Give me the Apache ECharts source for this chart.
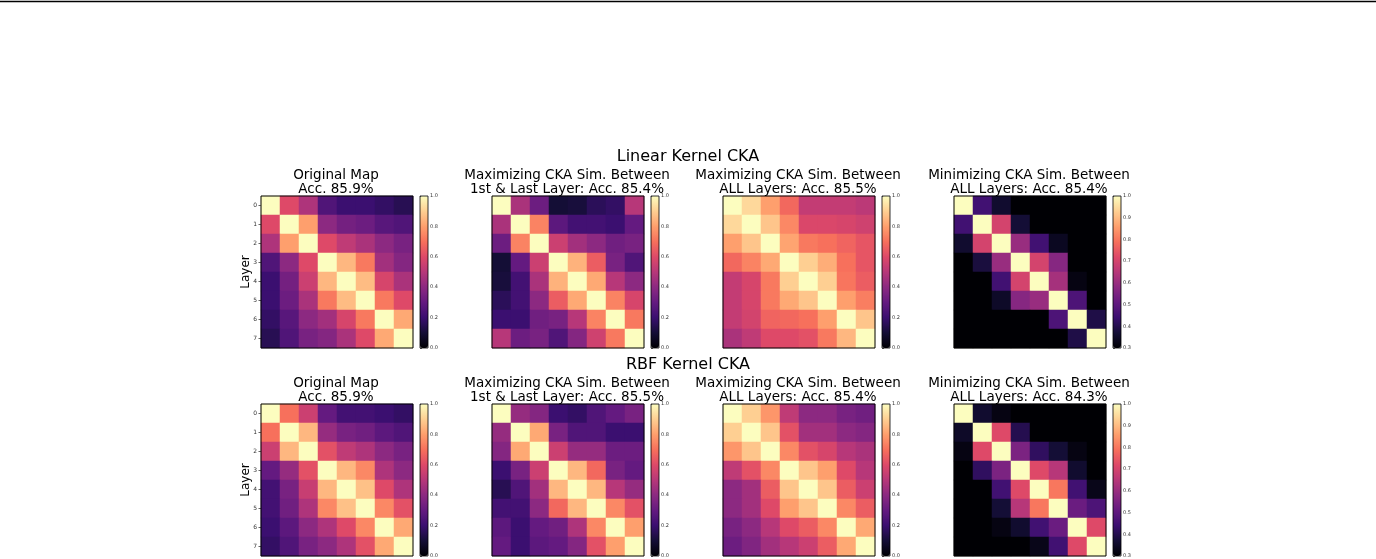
<!DOCTYPE html>
<html>
<head>
<meta charset="utf-8">
<title>CKA heatmaps</title>
<script src="https://cdn.jsdelivr.net/npm/echarts@6/dist/echarts.min.js"></script>
<style>
  html, body { margin: 0; padding: 0; background: #fff; }
  #chart { width: 1376px; height: 559px; }
</style>
</head>
<body>
<div id="chart"></div>
<script>
// layer indices
const layers = ['0', '1', '2', '3', '4', '5', '6', '7']

// linear kernel CKA matrices (row = layer, col = layer)
const linearOriginal = [
  [1.00, 0.60, 0.48, 0.25, 0.20, 0.20, 0.18, 0.15],
  [0.60, 1.00, 0.80, 0.40, 0.34, 0.32, 0.27, 0.25],
  [0.48, 0.80, 1.00, 0.60, 0.52, 0.47, 0.40, 0.35],
  [0.25, 0.40, 0.60, 1.00, 0.85, 0.72, 0.45, 0.38],
  [0.20, 0.34, 0.55, 0.85, 1.00, 0.86, 0.58, 0.47],
  [0.20, 0.32, 0.47, 0.72, 0.86, 1.00, 0.72, 0.60],
  [0.18, 0.27, 0.40, 0.45, 0.58, 0.72, 1.00, 0.82],
  [0.15, 0.25, 0.35, 0.38, 0.47, 0.60, 0.82, 1.00]
]
const linearMaxFirstLast = [
  [1.00, 0.47, 0.32, 0.10, 0.11, 0.16, 0.18, 0.50],
  [0.47, 1.00, 0.74, 0.28, 0.22, 0.22, 0.20, 0.30],
  [0.32, 0.74, 1.00, 0.55, 0.45, 0.40, 0.33, 0.35],
  [0.10, 0.30, 0.55, 1.00, 0.84, 0.65, 0.35, 0.25],
  [0.11, 0.22, 0.47, 0.84, 1.00, 0.82, 0.50, 0.40],
  [0.16, 0.22, 0.40, 0.65, 0.82, 1.00, 0.74, 0.58],
  [0.20, 0.20, 0.33, 0.35, 0.50, 0.74, 1.00, 0.72],
  [0.50, 0.32, 0.35, 0.25, 0.38, 0.56, 0.72, 1.00]
]
const linearMaxAll = [
  [1.00, 0.92, 0.80, 0.68, 0.53, 0.53, 0.53, 0.51],
  [0.92, 1.00, 0.88, 0.75, 0.59, 0.59, 0.58, 0.56],
  [0.80, 0.88, 1.00, 0.81, 0.72, 0.70, 0.67, 0.63],
  [0.68, 0.74, 0.82, 1.00, 0.90, 0.83, 0.70, 0.63],
  [0.53, 0.58, 0.72, 0.90, 1.00, 0.90, 0.71, 0.65],
  [0.53, 0.58, 0.72, 0.82, 0.88, 1.00, 0.80, 0.73],
  [0.53, 0.57, 0.67, 0.68, 0.70, 0.80, 1.00, 0.88],
  [0.47, 0.52, 0.60, 0.60, 0.62, 0.72, 0.85, 1.00]
]
const linearMinAll = [
  [1.00, 0.45, 0.36, 0.25, 0.25, 0.25, 0.25, 0.25],
  [0.45, 1.00, 0.70, 0.37, 0.25, 0.25, 0.25, 0.25],
  [0.36, 0.70, 1.00, 0.60, 0.45, 0.34, 0.28, 0.27],
  [0.25, 0.38, 0.60, 1.00, 0.70, 0.57, 0.28, 0.25],
  [0.25, 0.26, 0.45, 0.70, 1.00, 0.62, 0.32, 0.25],
  [0.25, 0.25, 0.35, 0.57, 0.60, 1.00, 0.47, 0.28],
  [0.25, 0.25, 0.26, 0.28, 0.29, 0.47, 1.00, 0.39],
  [0.25, 0.25, 0.25, 0.25, 0.25, 0.28, 0.39, 1.00]
]

// RBF kernel CKA matrices
const rbfOriginal = [
  [1.00, 0.70, 0.55, 0.30, 0.22, 0.22, 0.20, 0.18],
  [0.70, 1.00, 0.85, 0.42, 0.35, 0.33, 0.28, 0.25],
  [0.55, 0.85, 1.00, 0.62, 0.52, 0.48, 0.40, 0.35],
  [0.30, 0.42, 0.62, 1.00, 0.85, 0.75, 0.48, 0.40],
  [0.22, 0.35, 0.54, 0.85, 1.00, 0.87, 0.60, 0.48],
  [0.22, 0.33, 0.48, 0.75, 0.87, 1.00, 0.75, 0.62],
  [0.20, 0.28, 0.40, 0.48, 0.60, 0.75, 1.00, 0.82],
  [0.18, 0.25, 0.35, 0.40, 0.48, 0.62, 0.82, 1.00]
]
const rbfMaxFirstLast = [
  [1.00, 0.42, 0.38, 0.20, 0.18, 0.25, 0.30, 0.35],
  [0.42, 1.00, 0.82, 0.35, 0.25, 0.25, 0.20, 0.20],
  [0.38, 0.82, 1.00, 0.55, 0.42, 0.42, 0.32, 0.32],
  [0.20, 0.35, 0.55, 1.00, 0.85, 0.68, 0.35, 0.30],
  [0.15, 0.25, 0.45, 0.85, 1.00, 0.85, 0.50, 0.42],
  [0.22, 0.22, 0.40, 0.68, 0.85, 1.00, 0.75, 0.62],
  [0.28, 0.20, 0.30, 0.33, 0.48, 0.75, 1.00, 0.80],
  [0.30, 0.20, 0.28, 0.30, 0.38, 0.62, 0.80, 1.00]
]
const rbfMaxAll = [
  [1.00, 0.90, 0.78, 0.52, 0.40, 0.40, 0.35, 0.33],
  [0.90, 1.00, 0.88, 0.62, 0.45, 0.45, 0.40, 0.38],
  [0.78, 0.88, 1.00, 0.75, 0.62, 0.58, 0.50, 0.47],
  [0.52, 0.62, 0.75, 1.00, 0.88, 0.80, 0.60, 0.50],
  [0.40, 0.45, 0.65, 0.88, 1.00, 0.88, 0.65, 0.55],
  [0.40, 0.45, 0.60, 0.80, 0.88, 1.00, 0.75, 0.65],
  [0.35, 0.40, 0.50, 0.60, 0.65, 0.75, 1.00, 0.82],
  [0.32, 0.37, 0.45, 0.50, 0.55, 0.65, 0.82, 1.00]
]
const rbfMinAll = [
  [1.00, 0.36, 0.32, 0.25, 0.25, 0.25, 0.25, 0.25],
  [0.35, 1.00, 0.72, 0.40, 0.25, 0.25, 0.25, 0.25],
  [0.32, 0.72, 1.00, 0.55, 0.42, 0.37, 0.32, 0.27],
  [0.25, 0.42, 0.55, 1.00, 0.72, 0.65, 0.36, 0.26],
  [0.25, 0.25, 0.45, 0.72, 1.00, 0.80, 0.45, 0.33],
  [0.25, 0.25, 0.37, 0.65, 0.80, 1.00, 0.52, 0.47],
  [0.25, 0.25, 0.32, 0.36, 0.45, 0.52, 1.00, 0.72],
  [0.25, 0.25, 0.25, 0.25, 0.33, 0.45, 0.72, 1.00]
]

const rowTitles = ['Linear Kernel CKA', 'RBF Kernel CKA']
const panelTitles = [
  'Original Map\nAcc. 85.9%',
  'Maximizing CKA Sim. Between\n1st & Last Layer: Acc. 85.4%',
  'Maximizing CKA Sim. Between\nALL Layers: Acc. 85.5%',
  'Minimizing CKA Sim. Between\nALL Layers: Acc. 85.4%',
  'Original Map\nAcc. 85.9%',
  'Maximizing CKA Sim. Between\n1st & Last Layer: Acc. 85.5%',
  'Maximizing CKA Sim. Between\nALL Layers: Acc. 85.4%',
  'Minimizing CKA Sim. Between\nALL Layers: Acc. 84.3%'
]
const matrices = [
  linearOriginal, linearMaxFirstLast, linearMaxAll, linearMinAll,
  rbfOriginal, rbfMaxFirstLast, rbfMaxAll, rbfMinAll
]
// colour limits of each colorbar
const colorMin = [0, 0, 0, 0.3, 0, 0, 0, 0.3]
const colorMax = [1, 1, 1, 1, 1, 1, 1, 1]
const colorStep = [0.2, 0.2, 0.2, 0.1, 0.2, 0.2, 0.2, 0.1]

// magma colormap
const magma = ['#000004', '#140e36', '#3b0f70', '#641a80', '#8c2981', '#b73779',
  '#de4968', '#f7705c', '#fe9f6d', '#fecf92', '#fcfdbf']

// layout (px) - 19px cells so the heatmap has no seams
const mapLeft0 = 261
const colStep = 231
const rowTop = [196, 404]
const mapSize = 152
const cbOffset = 159
const cbWidth = 8
const font = 'DejaVu Sans'

let grids = []
let xAxes = []
let yAxes = []
let series = []
let visualMaps = []
let titles = []

rowTitles.forEach((t, r) => {
  titles.push({
    text: t,
    left: 688,
    top: rowTop[r] - 47,
    textAlign: 'center',
    padding: 0,
    textStyle: { fontFamily: font, fontSize: 16, fontWeight: 'normal', color: '#000' }
  })
})

matrices.forEach((m, i) => {
  const r = Math.floor(i / 4)
  const c = i % 4
  const left = mapLeft0 + colStep * c
  const top = rowTop[r]

  titles.push({
    text: panelTitles[i],
    left: left + 75,
    top: top - 28,
    textAlign: 'center',
    padding: 0,
    textStyle: { fontFamily: font, fontSize: 13.5, lineHeight: 14, fontWeight: 'normal', color: '#000' }
  })

  // heatmap grid
  const g = grids.length
  grids.push({
    left: left, top: top, width: mapSize, height: mapSize,
    show: true, backgroundColor: 'transparent', borderColor: '#000', borderWidth: 1, z: 10
  })
  xAxes.push({
    type: 'category', gridIndex: g, data: layers,
    axisLine: { show: false }, axisTick: { show: false }, axisLabel: { show: false },
    splitLine: { show: false }
  })
  yAxes.push({
    type: 'category', gridIndex: g, data: layers, inverse: true,
    name: c === 0 ? 'Layer' : '',
    nameLocation: 'middle', nameGap: 9, nameMoveOverlap: false,
    nameTextStyle: { fontFamily: font, fontSize: 12, color: '#000' },
    axisLine: { show: false },
    axisTick: { show: c === 0, alignWithLabel: true, length: 2.5, lineStyle: { color: '#000', width: 0.6 } },
    axisLabel: { show: c === 0, fontFamily: font, fontSize: 6, color: '#333', margin: 4 },
    splitLine: { show: false }
  })
  let cells = []
  m.forEach((row, y) => row.forEach((v, x) => cells.push([x, y, v])))
  series.push({
    type: 'heatmap', xAxisIndex: g, yAxisIndex: g, data: cells,
    itemStyle: { borderWidth: 0 },
    emphasis: { disabled: true }, progressive: 0
  })

  // colorbar
  visualMaps.push({
    type: 'continuous', seriesIndex: i, min: colorMin[i], max: colorMax[i],
    calculable: false, hoverLink: false, realtime: false, show: true,
    orient: 'vertical', left: left + cbOffset, top: top,
    itemWidth: cbWidth, itemHeight: mapSize, padding: 0, text: null,
    inRange: { color: magma }
  })
  const cg = grids.length
  grids.push({
    left: left + cbOffset, top: top, width: cbWidth, height: mapSize,
    show: true, backgroundColor: 'transparent', borderColor: '#000', borderWidth: 0.8, z: 10
  })
  xAxes.push({ type: 'value', gridIndex: cg, show: false, min: 0, max: 1 })
  yAxes.push({
    type: 'value', gridIndex: cg, position: 'right',
    min: colorMin[i], max: colorMax[i], interval: colorStep[i],
    axisLine: { show: false },
    axisTick: { show: true, length: 2, lineStyle: { color: '#000', width: 0.6 } },
    axisLabel: { fontFamily: font, fontSize: 5, color: '#333', margin: 2, formatter: v => v.toFixed(1) },
    splitLine: { show: false }
  })
})

const chart = echarts.init(document.getElementById('chart'))
chart.setOption({
  backgroundColor: '#fff',
  animation: false,
  title: titles,
  grid: grids,
  xAxis: xAxes,
  yAxis: yAxes,
  visualMap: visualMaps,
  series: series,
  graphic: [{
    type: 'line',
    shape: { x1: 0, y1: 1.5, x2: 1376, y2: 1.5 },
    style: { stroke: '#000', lineWidth: 1.5 }
  }]
})
window.addEventListener('resize', () => chart.resize())
</script>
</body>
</html>
